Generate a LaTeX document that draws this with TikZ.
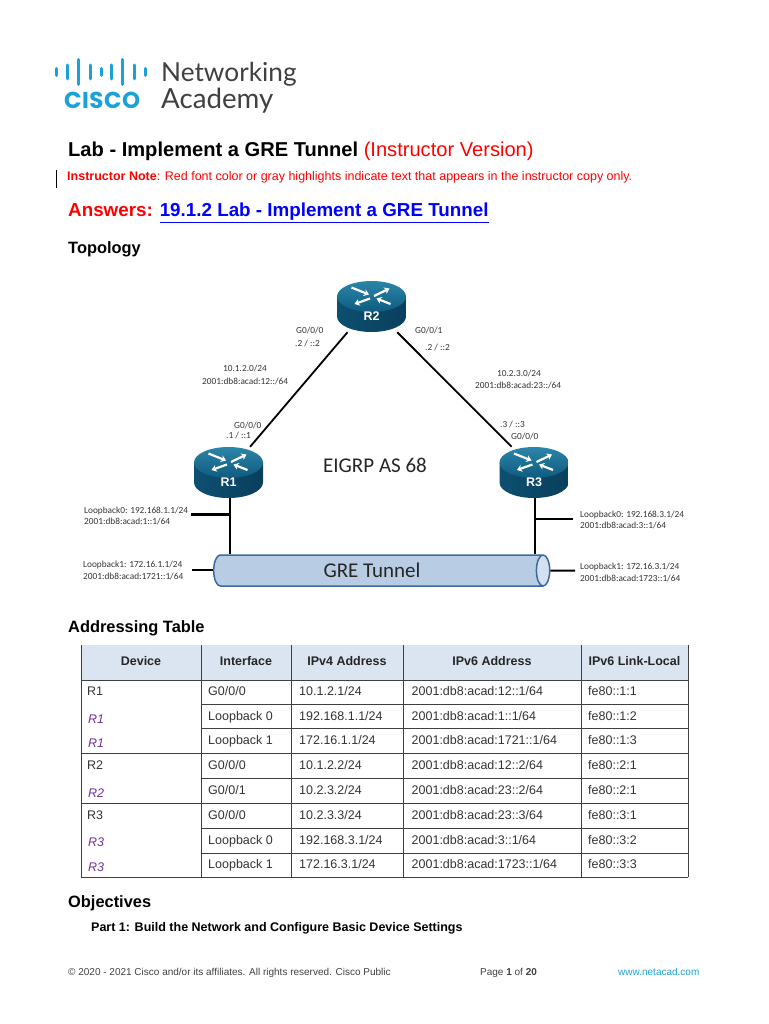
\documentclass[tikz,border=0pt]{standalone}
\usepackage{fontspec}
\usepackage{xcolor}
\usetikzlibrary{arrows.meta, positioning, shapes.geometric, calc}
\setmainfont{Liberation Sans}
\newfontfamily\topofont{Carlito}
\newfontfamily\logofont{Lato}
\newfontfamily\ciscofont[LetterSpace=2]{Poppins}
\newcommand{\pxfont}[1]{\fontsize{#1}{#1}\selectfont}
\definecolor{ciscoblue}{HTML}{1BA0D7}
\definecolor{headfill}{HTML}{DBE5F1}
\definecolor{gridline}{HTML}{3F3F3F}
\definecolor{notepurple}{HTML}{7030A0}
\definecolor{tunnelfill}{HTML}{B8CCE4}
\definecolor{tunnelend}{HTML}{D5E1F1}
\definecolor{tunneledge}{HTML}{3D6A9E}
\definecolor{routerdark}{HTML}{0D4F70}
\definecolor{routermid}{HTML}{3F9DBB}
\definecolor{routerdeep}{HTML}{0A3F5E}
\definecolor{routertop}{HTML}{0F5A80}
\definecolor{routerlow}{HTML}{2B86A8}
% body of one router, the node with its name goes on top
\newcommand{\routerbody}[2]{
  \begin{scope}[shift={(#1,#2)}]
    \shade[left color=routerdark, middle color=routermid, right color=routerdeep]
      (-34.5,-10) -- (-34.5,10) arc[start angle=180, end angle=0, x radius=34.5, y radius=15.5]
      -- (34.5,-10) -- cycle;
    \shade[top color=routerlow, bottom color=routertop]
      (0,-10) ellipse[x radius=34.5, y radius=15.5];
    \foreach \xa/\ya/\xb/\yb in {-20/-19/-2.5/-12, 19/-2.5/5/-8, 2.5/-10.5/18/-18, -1.5/-8/-17/-2.5}
      \draw[white, line width=2.2pt, -{Stealth[length=5pt, width=7pt]}] (\xa,\ya) -- (\xb,\yb);
  \end{scope}
}

\begin{document}
\begin{tikzpicture}[
  x=1pt, y=-1pt,
  txt/.style={anchor=base west, inner sep=0pt, font=\pxfont{12.5}},
  heading/.style={anchor=base west, inner sep=0pt, font=\bfseries\pxfont{16.4}},
  topo/.style={anchor=base west, inner sep=0pt, font=\topofont\pxfont{9.3}, text=black!80},
  biglabel/.style={anchor=base west, inner sep=0pt, font=\topofont\pxfont{21}, text=black!85},
  headcell/.style={anchor=base, inner sep=0pt, font=\bfseries\pxfont{12.5}, text=black!85},
  cell/.style={anchor=base west, inner sep=0pt, font=\pxfont{12.5}, text=black!80},
  devnote/.style={cell, font=\itshape\pxfont{12.5}, text=notepurple},
  foot/.style={anchor=base west, inner sep=0pt, font=\pxfont{10}, text=black!75},
  logobar/.style={draw=ciscoblue, line width=3pt, line cap=round},
  link/.style={draw=black, line width=1.8pt},
  grid/.style={draw=gridline, line width=0.9pt},
  routerbox/.style={rectangle, minimum width=69pt, minimum height=51pt, inner sep=0pt,
    text=white, font=\bfseries\pxfont{12.5}},
  tunnelpipe/.style={cylinder, shape aspect=0.9, draw=tunneledge, line width=1.5pt, cylinder uses custom fill,
    cylinder body fill=tunnelfill, cylinder end fill=tunnelend, minimum width=31pt, minimum height=336pt,
    inner sep=0pt, font=\topofont\pxfont{21}, text=black!85},
]
\useasboundingbox (0,0) rectangle (768,1024);

% logo
\foreach \x/\h in {56.7/7, 67.3/14, 78.3/25, 90/14, 101/7, 111.7/14, 122.7/25, 134.3/14, 145.3/7}
  \draw[logobar] (\x,{72-\h/2}) -- (\x,{72+\h/2});
\node[anchor=base west, inner sep=0pt, font=\ciscofont\bfseries\pxfont{23}, text=ciscoblue] (cisco) at (64,109) {CISCO};
\node[anchor=base west, inner sep=0pt, font=\logofont\pxfont{26.2}, text=black!75] (netw) at (161,82) {Networking};
\node[anchor=base west, inner sep=0pt, font=\logofont\pxfont{27.7}, text=black!75] (acad) at (161,109) {Academy};

% headings
\node[anchor=base west, inner sep=0pt, font=\pxfont{20.1}] (title) at (68,157)
  {\textbf{Lab - Implement a GRE Tunnel} \textcolor{red}{(Instructor Version)}};
\draw[black, line width=0.8pt] (56.5,170) -- (56.5,188);
\node[txt, text=red] (note) at (67,181)
  {\textbf{Instructor Note}: Red font color or gray highlights indicate text that appears in the instructor copy only.};
\node[anchor=base west, inner sep=0pt, font=\bfseries\pxfont{18.8}] (answers) at (68,217)
  {\textcolor{red}{Answers:} \textcolor{blue}{\underline{19.1.2 Lab - Implement a GRE Tunnel}}};
\node[heading] (topology) at (68,253) {Topology};

% routers
\routerbody{228.5}{472.5}
\routerbody{371.5}{306.5}
\routerbody{534}{472.5}
\node[routerbox] (R1) at (228.5,472.5) {\smash{\raisebox{-14pt}{R1}}};
\node[routerbox] (R2) at (371.5,306.5) {\smash{\raisebox{-14pt}{R2}}};
\node[routerbox] (R3) at (534,472.5) {\smash{\raisebox{-14pt}{R3}}};
\node[tunnelpipe] (tunnel) at (378,570.5) {\hspace*{-12pt}GRE Tunnel};

\coordinate (j1) at (230,514.5);
\coordinate (j3) at (535,519);
\coordinate (lb0a) at (191,514.5);
\coordinate (lb0b) at (573,519);
\coordinate (lb1a) at (192,570);
\coordinate (lb1b) at (575,570.5);

\draw[link] (R1.50) -- (R2.227);
\draw[link] (R2.-45) -- (R3.131);
\draw[link] (j1 |- R1.south) -- (j1 |- tunnel.north);
\draw[link] (j3 |- R3.south) -- (j3 |- tunnel.north);
\draw[link, line width=2.2pt] (lb0a) -- (j1);
\draw[link] (j3) -- (lb0b);
\draw[link] (lb1a) -- (lb1a -| tunnel.west);
\draw[link, line width=2pt] (tunnel.east) -- (lb1b);

% topology labels
\node[topo] (a1) at (296,333) {G0/0/0};
\node[topo] (a2) at (295,346) {.2 / ::2};
\node[topo] (n12a) at (223,371) {10.1.2.0/24};
\node[topo] (n12b) at (202,384) {2001:db8:acad:12::/64};
\node[topo] (a3) at (234,428) {G0/0/0};
\node[topo] (a4) at (226,438) {.1 / ::1};
\node[topo] (l10) at (84,513) {Loopback0: 192.168.1.1/24};
\node[topo] (l11) at (84,524) {2001:db8:acad:1::1/64};
\node[topo] (l12) at (83,567) {Loopback1: 172.16.1.1/24};
\node[topo] (l13) at (83,579) {2001:db8:acad:1721::1/64};
\node[topo] (b1) at (415,333) {G0/0/1};
\node[topo] (b2) at (425,350) {.2 / ::2};
\node[topo] (n23a) at (497,376) {10.2.3.0/24};
\node[topo] (n23b) at (475,388) {2001:db8:acad:23::/64};
\node[topo] (b3) at (500,427) {.3 / ::3};
\node[topo] (b4) at (511,439) {G0/0/0};
\node[topo] (l30) at (580,517) {Loopback0: 192.168.3.1/24};
\node[topo] (l31) at (580,528) {2001:db8:acad:3::1/64};
\node[topo] (l32) at (580,569) {Loopback1: 172.16.3.1/24};
\node[topo] (l33) at (580,581) {2001:db8:acad:1723::1/64};
\node[biglabel] (eigrp) at (323,472) {EIGRP AS 68};

% table
\node[heading] (addressing) at (68,632) {Addressing Table};
\fill[headfill] (81,645) rectangle (688,680);
\foreach \ly in {704,728,778,828,853}
  \draw[grid] (201,\ly) -- (688,\ly);
\foreach \ly in {680,753,803,877}
  \draw[grid] (81,\ly) -- (688,\ly);
\foreach \vx in {81,201,291,403,581,688}
  \draw[grid] (\vx,645) -- (\vx,877);
\foreach \cx/\htext [count=\k] in {141/Device, 246/Interface, 347/IPv4 Address, 492/IPv6 Address, 634.5/IPv6 Link-Local}
  \node[headcell] (head\k) at (\cx,665) {\htext};
\foreach \ry/\ifc/\vfour/\vsix/\lnk [count=\k] in {
  695/{G0/0/0}/{10.1.2.1/24}/{2001:db8:acad:12::1/64}/fe80::1:1,
  720/Loopback 0/{192.168.1.1/24}/{2001:db8:acad:1::1/64}/fe80::1:2,
  744/Loopback 1/{172.16.1.1/24}/{2001:db8:acad:1721::1/64}/fe80::1:3,
  769/{G0/0/0}/{10.1.2.2/24}/{2001:db8:acad:12::2/64}/fe80::2:1,
  794/{G0/0/1}/{10.2.3.2/24}/{2001:db8:acad:23::2/64}/fe80::2:1,
  819/{G0/0/0}/{10.2.3.3/24}/{2001:db8:acad:23::3/64}/fe80::3:1,
  844/Loopback 0/{192.168.3.1/24}/{2001:db8:acad:3::1/64}/fe80::3:2,
  868/Loopback 1/{172.16.3.1/24}/{2001:db8:acad:1723::1/64}/fe80::3:3} {
  \node[cell] (ifc\k) at (208,\ry) {\ifc};
  \node[cell] (vfour\k) at (299,\ry) {\vfour};
  \node[cell] (vsix\k) at (411.5,\ry) {\vsix};
  \node[cell] (lnk\k) at (588,\ry) {\lnk};
}
\node[cell] (dev1) at (87,695) {R1};
\node[cell] (dev2) at (87,769) {R2};
\node[cell] (dev3) at (87,819) {R3};
\foreach \ry/\dname [count=\k] in {723/R1, 747/R1, 797/R2, 846/R3, 871/R3}
  \node[devnote] (devnote\k) at (88,\ry) {\dname};

% objectives and footer
\node[heading] (objectives) at (68,907) {Objectives};
\node[txt, font=\bfseries\pxfont{12.5}] (part) at (91,931) {Part 1: Build the Network and Configure Basic Device Settings};
\node[foot] (copyr) at (68,975) {© 2020 - 2021 Cisco and/or its affiliates. All rights reserved. Cisco Public};
\node[foot] (page) at (480,975) {Page \textbf{1} of \textbf{20}};
\node[foot, text=ciscoblue] (web) at (618,975) {www.netacad.com};
\end{tikzpicture}
\end{document}
